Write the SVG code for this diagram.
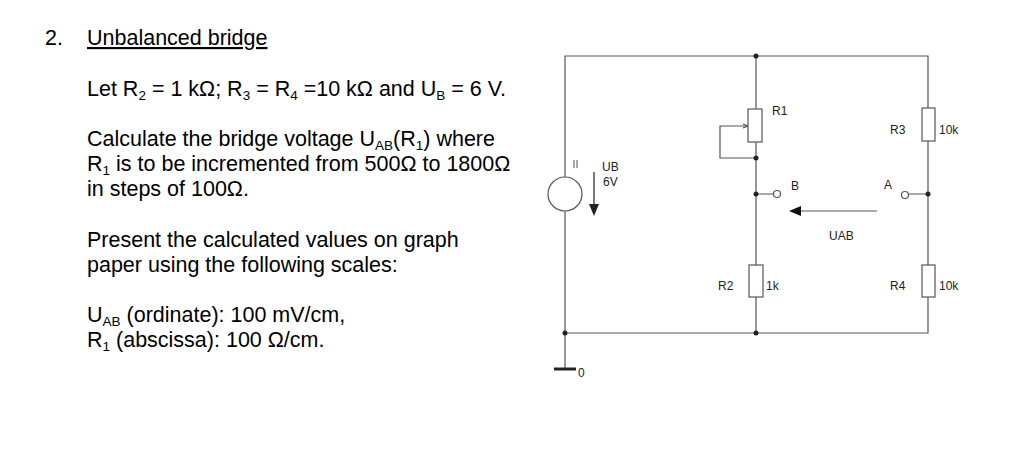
<svg xmlns="http://www.w3.org/2000/svg" width="1024" height="449" viewBox="0 0 1024 449">
<style>
.t{font-family:"Liberation Sans",Arial,sans-serif;font-size:21.5px;fill:#000}
.s{font-family:"Liberation Sans",Arial,sans-serif;font-size:12px;fill:#222}
.w{stroke:#555;stroke-width:1.2;fill:none}
.r{stroke:#555;stroke-width:1.2;fill:#fff}
.d{fill:#222}
</style>
<rect width="1024" height="449" fill="#fff"/>
<g id="text">
<text class="t" x="45" y="45">2.</text>
<text class="t" x="87" y="45" text-decoration="underline">Unbalanced bridge</text>
<text class="t" x="87" y="96">Let R<tspan font-size="13.5" dy="4">2</tspan><tspan dy="-4"> = 1 kΩ; R</tspan><tspan font-size="13.5" dy="4">3</tspan><tspan dy="-4"> = R</tspan><tspan font-size="13.5" dy="4">4</tspan><tspan dy="-4"> =10 kΩ and U</tspan><tspan font-size="13.5" dy="4">B</tspan><tspan dy="-4"> = 6 V.</tspan></text>
<text class="t" x="87" y="146">Calculate the bridge voltage U<tspan font-size="13.5" dy="4">AB</tspan><tspan dy="-4">(R</tspan><tspan font-size="13.5" dy="4">1</tspan><tspan dy="-4">) where</tspan></text>
<text class="t" x="87" y="171">R<tspan font-size="13.5" dy="4">1</tspan><tspan dy="-4"> is to be incremented from 500Ω to 1800Ω</tspan></text>
<text class="t" x="87" y="196">in steps of 100Ω.</text>
<text class="t" x="87" y="247">Present the calculated values on graph</text>
<text class="t" x="87" y="272">paper using the following scales:</text>
<text class="t" x="87" y="322">U<tspan font-size="13.5" dy="4">AB</tspan><tspan dy="-4"> (ordinate): 100 mV/cm,</tspan></text>
<text class="t" x="87" y="347">R<tspan font-size="13.5" dy="4">1</tspan><tspan dy="-4"> (abscissa): 100 Ω/cm.</tspan></text>
</g>
<g id="connectors">
<path class="w" d="M565 333V56H928V108M928 141V265M928 297V333H565M565 333V369M756 56V109M756 142V265M756 297V333M748 126H720V158H756M756 194H773M909 194H928M877 211H800"/>
<path d="M789 211l12 -5v10z" fill="#111"/>
<path d="M594 172V205" stroke="#222" stroke-width="1.2"/>
<path d="M594 216l-5 -12h10z" fill="#222"/>
<path d="M743 124l5 2l-5 2" class="w"/>
<path d="M574 160v8M577 160v8" stroke="#555" stroke-width="1"/>
<path d="M554 369H576" stroke="#222" stroke-width="3"/>
</g>
<g id="nodes">
<g id="src"><circle class="r" cx="565" cy="194" r="17"/></g>
<g id="R1"><rect class="r" x="748" y="109" width="14" height="33"/><text class="s" x="772" y="115">R1</text></g>
<g id="R2"><rect class="r" x="749" y="265" width="14" height="32"/><text class="s" x="718" y="290">R2</text><text class="s" x="766" y="290">1k</text></g>
<g id="R3"><rect class="r" x="922" y="108" width="13" height="33"/><text class="s" x="890" y="134">R3</text><text class="s" x="939" y="134">10k</text></g>
<g id="R4"><rect class="r" x="922" y="265" width="13" height="32"/><text class="s" x="890" y="290">R4</text><text class="s" x="939" y="290">10k</text></g>
<g id="B"><circle class="r" cx="777" cy="194" r="3.5"/><text class="s" x="791" y="190">B</text></g>
<g id="A"><circle class="r" cx="905" cy="195" r="3.5"/><text class="s" x="884" y="189">A</text></g>
<text class="s" x="602" y="171">UB</text><text class="s" x="603" y="186">6V</text>
<text class="s" x="829" y="240">UAB</text>
<text class="s" x="578" y="377">0</text>
<circle class="d" cx="756" cy="56" r="2.5"/><circle class="d" cx="756" cy="158" r="2.5"/><circle class="d" cx="756" cy="194" r="2.5"/><circle class="d" cx="928" cy="194" r="2.5"/><circle class="d" cx="756" cy="333" r="2.5"/><circle class="d" cx="565" cy="333" r="2.5"/>
</g>
</svg>
